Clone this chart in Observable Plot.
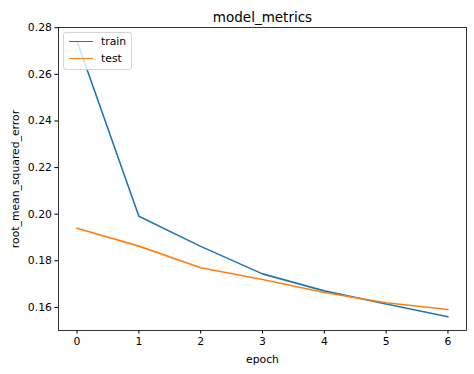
<!DOCTYPE html>
<html>
<head>
<meta charset="utf-8">
<script src="https://cdn.jsdelivr.net/npm/d3@7"></script>
<script src="https://cdn.jsdelivr.net/npm/@observablehq/plot@0.6"></script>
<style>
  body { margin: 0; background: #fff; }
  #wrap { position: relative; width: 474px; height: 374px; font-family: "DejaVu Sans", sans-serif; }
  #legend { position: absolute; left: 63px; top: 32px; width: 69px; height: 38px; box-sizing: border-box;
    border: 1px solid #d5d5d5; border-radius: 3px; background: rgba(255,255,255,0.8); font-size: 10.8px; color: #000; }
  .row { position: absolute; left: 5px; display: flex; align-items: center; }
  .sw { width: 24px; height: 0; border-top: 1.6px solid; margin-right: 8px; }
</style>
</head>
<body>
<div id="wrap"></div>
<script>
const epochs = [0, 1, 2, 3, 4, 5, 6];
const train = [0.2742, 0.1991, 0.1862, 0.1744, 0.1671, 0.1615, 0.1560];
const test = [0.1940, 0.1863, 0.1770, 0.1720, 0.1664, 0.1620, 0.1591];
const seriesNames = ["train", "test"];
const colors = ["#1f77b4", "#ff7f0e"];
const xTicks = [0, 1, 2, 3, 4, 5, 6];
const yTicks = [0.16, 0.18, 0.20, 0.22, 0.24, 0.26, 0.28];

const rows = [];
[train, test].forEach((vals, i) => vals.forEach((v, j) => rows.push({epoch: epochs[j], value: v, series: seriesNames[i]})));

const chart = Plot.plot({
  width: 474,
  height: 374,
  marginLeft: 58,
  marginRight: 8,
  marginTop: 27,
  marginBottom: 44,
  style: { fontFamily: "DejaVu Sans, sans-serif", fontSize: "10.8px", color: "#000", background: "#fff" },
  x: { domain: [-0.3, 6.3] },
  y: { domain: [0.1501, 0.2801] },
  color: { domain: seriesNames, range: colors },
  marks: [
    Plot.axisX({ ticks: xTicks, tickSize: 3.6, tickPadding: 3, tickFormat: d3.format("d"), fontSize: 10.8,
      label: "epoch", labelAnchor: "center", labelArrow: false, labelOffset: 32 }),
    Plot.axisY({ ticks: yTicks, tickSize: 3.6, tickPadding: 3, tickFormat: d3.format(".2f"), fontSize: 10.8,
      label: "root_mean_squared_error", labelAnchor: "center", labelArrow: false, labelOffset: 47 }),
    Plot.line(rows, { x: "epoch", y: "value", stroke: "series", strokeWidth: 1.6 }),
    Plot.frame({ stroke: "#000", strokeWidth: 0.8 }),
    Plot.text(["model_metrics"], { frameAnchor: "top", dy: -15, fontSize: 13.5, fill: "#000" })
  ]
});
const wrap = document.getElementById("wrap");
wrap.appendChild(chart);
const leg = document.createElement("div");
leg.id = "legend";
seriesNames.forEach((n, i) => {
  const r = document.createElement("div");
  r.className = "row";
  r.style.top = (i === 0 ? 2 : 19) + "px";
  r.innerHTML = `<span class="sw" style="border-color:${colors[i]}"></span><span>${n}</span>`;
  leg.appendChild(r);
});
wrap.appendChild(leg);
</script>
</body>
</html>
